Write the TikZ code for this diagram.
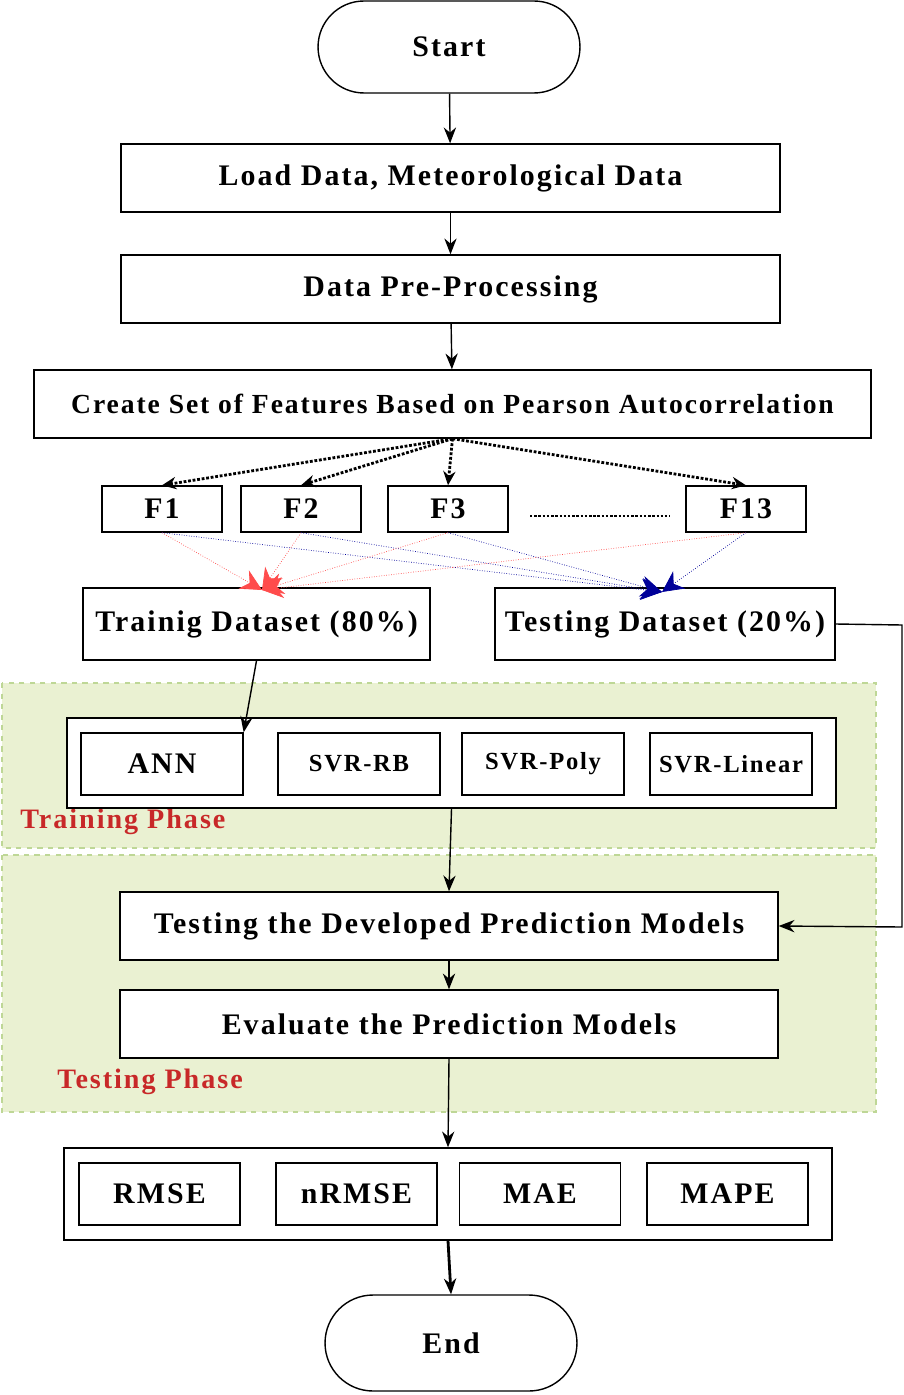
\documentclass[tikz,border=0pt]{standalone}
\usepackage{fontspec}
\setmainfont{Liberation Serif}[LetterSpace=7]
\usetikzlibrary{arrows.meta,shapes.misc}
\definecolor{phasegreen}{RGB}{234,241,210}
\definecolor{phaseedge}{RGB}{190,215,150}
\definecolor{phasered}{RGB}{200,40,40}
\tikzset{
  box/.style={draw, thick, fill=white, inner sep=0pt, font=\fontsize{17}{20}\selectfont\bfseries},
  term/.style={box, rounded rectangle},
  arr/.style={-{Stealth[length=9pt,width=7pt]}, thick},
  dot/.style={densely dotted, line width=1.6pt, -{Stealth[length=8pt,width=7pt]}},
  redl/.style={densely dotted, red!70, -{Stealth[length=12pt,width=12pt]}},
  bluel/.style={densely dotted, blue!60!black, -{Stealth[length=12pt,width=12pt]}},
  phase/.style={fill=phasegreen, draw=phaseedge, dashed, thick},
  phaselabel/.style={text=phasered, anchor=west, inner sep=0pt, font=\fontsize{16}{19}\selectfont\bfseries}
}
\begin{document}
\begin{tikzpicture}[x=0.02cm,y=-0.02cm]
\useasboundingbox (0,0) rectangle (903,1395);
% phases
\draw[phase] (2,683) rectangle (876,848);
\draw[phase] (2,855) rectangle (876,1112);
\node[phaselabel] (trlab) at (20,822) {Training Phase};
\node[phaselabel] (tslab) at (57,1082) {Testing Phase};
% main steps
\node[term, minimum width=5.24cm, minimum height=1.84cm] (start) at (449,47) {Start};
\node[box, minimum width=13.18cm, minimum height=1.36cm] (load) at (450.5,178) {Load Data, Meteorological Data};
\node[box, minimum width=13.18cm, minimum height=1.36cm] (pre) at (450.5,289) {Data Pre-Processing};
\node[box, minimum width=16.74cm, minimum height=1.36cm, font=\fontsize{15.7}{18}\selectfont\bfseries] (feat) at (452.5,404) {Create Set of Features Based on Pearson Autocorrelation};
% features
\foreach \n/\x in {F1/162, F2/301, F3/448, F13/746}
  \node[box, minimum width=2.4cm, minimum height=0.92cm] (\n) at (\x,509) {\n};
\coordinate (dl) at (530,516);
\coordinate (dr) at (670,516);
\draw[densely dotted, line width=1.4pt] (dl) -- (dr);
% datasets
\node[box, minimum width=6.94cm, minimum height=1.44cm] (train) at (256.5,624) {Trainig Dataset (80\%)};
\node[box, minimum width=6.8cm, minimum height=1.44cm] (test) at (665,624) {Testing Dataset (20\%)};
% models
\node[box, minimum width=15.38cm, minimum height=1.8cm] (models) at (451.5,763) {};
\node[box, minimum width=3.24cm, minimum height=1.24cm] (ann) at (162,764) {ANN};
\node[box, minimum width=3.24cm, minimum height=1.24cm, font=\fontsize{14}{17}\selectfont\bfseries] (rb) at (359,764) {SVR-RB};
\node[box, minimum width=3.24cm, minimum height=1.24cm, font=\fontsize{14}{17}\selectfont\bfseries] (poly) at (543,764) {SVR-Poly};
\node[box, minimum width=3.24cm, minimum height=1.24cm, font=\fontsize{14}{17}\selectfont\bfseries] (lin) at (731,764) {SVR-Linear};
% testing
\node[box, minimum width=13.16cm, minimum height=1.36cm] (tdev) at (449,926) {Testing the Developed Prediction Models};
\node[box, minimum width=13.16cm, minimum height=1.36cm] (eval) at (449,1024) {Evaluate the Prediction Models};
% metrics
\node[box, minimum width=15.36cm, minimum height=1.84cm] (metrics) at (448,1194) {};
\node[box, minimum width=3.22cm, minimum height=1.24cm] (rmse) at (159.5,1194) {RMSE};
\node[box, minimum width=3.22cm, minimum height=1.24cm] (nrmse) at (356.5,1194) {nRMSE};
\node[box, minimum width=3.22cm, minimum height=1.24cm] (mae) at (540,1194) {MAE};
\node[box, minimum width=3.22cm, minimum height=1.24cm] (mape) at (727.5,1194) {MAPE};
\node[term, minimum width=5.04cm, minimum height=1.92cm] (end) at (451,1343) {End};
% connectors
\draw[arr] (start) -- (load);
\draw[arr] (load) -- (pre);
\draw[arr] (pre) -- (feat);
\foreach \n in {F1,F2,F3,F13}
  \draw[dot] (feat.south) -- (\n.north);
\coordinate (trin) at (262,590);
\coordinate (tsin) at (662,592);
\foreach \n in {F1,F2,F3,F13} {
  \draw[redl] (\n.south) -- (trin);
  \draw[bluel] (\n.south) -- (tsin);
}
\draw[arr] (train.south) -- (ann.north east);
\draw[arr] (models.south) -- (tdev.north);
\coordinate (turn1) at (902,625);
\coordinate (turn2) at (902,927);
\draw[arr] (test.east) -- (turn1) -- (turn2) -- (tdev.east);
\draw[arr] (tdev) -- (eval);
\draw[arr] (eval.south) -- (metrics.north);
\draw[arr, line width=1.6pt] (metrics.south) -- (end.north);
\end{tikzpicture}
\end{document}
